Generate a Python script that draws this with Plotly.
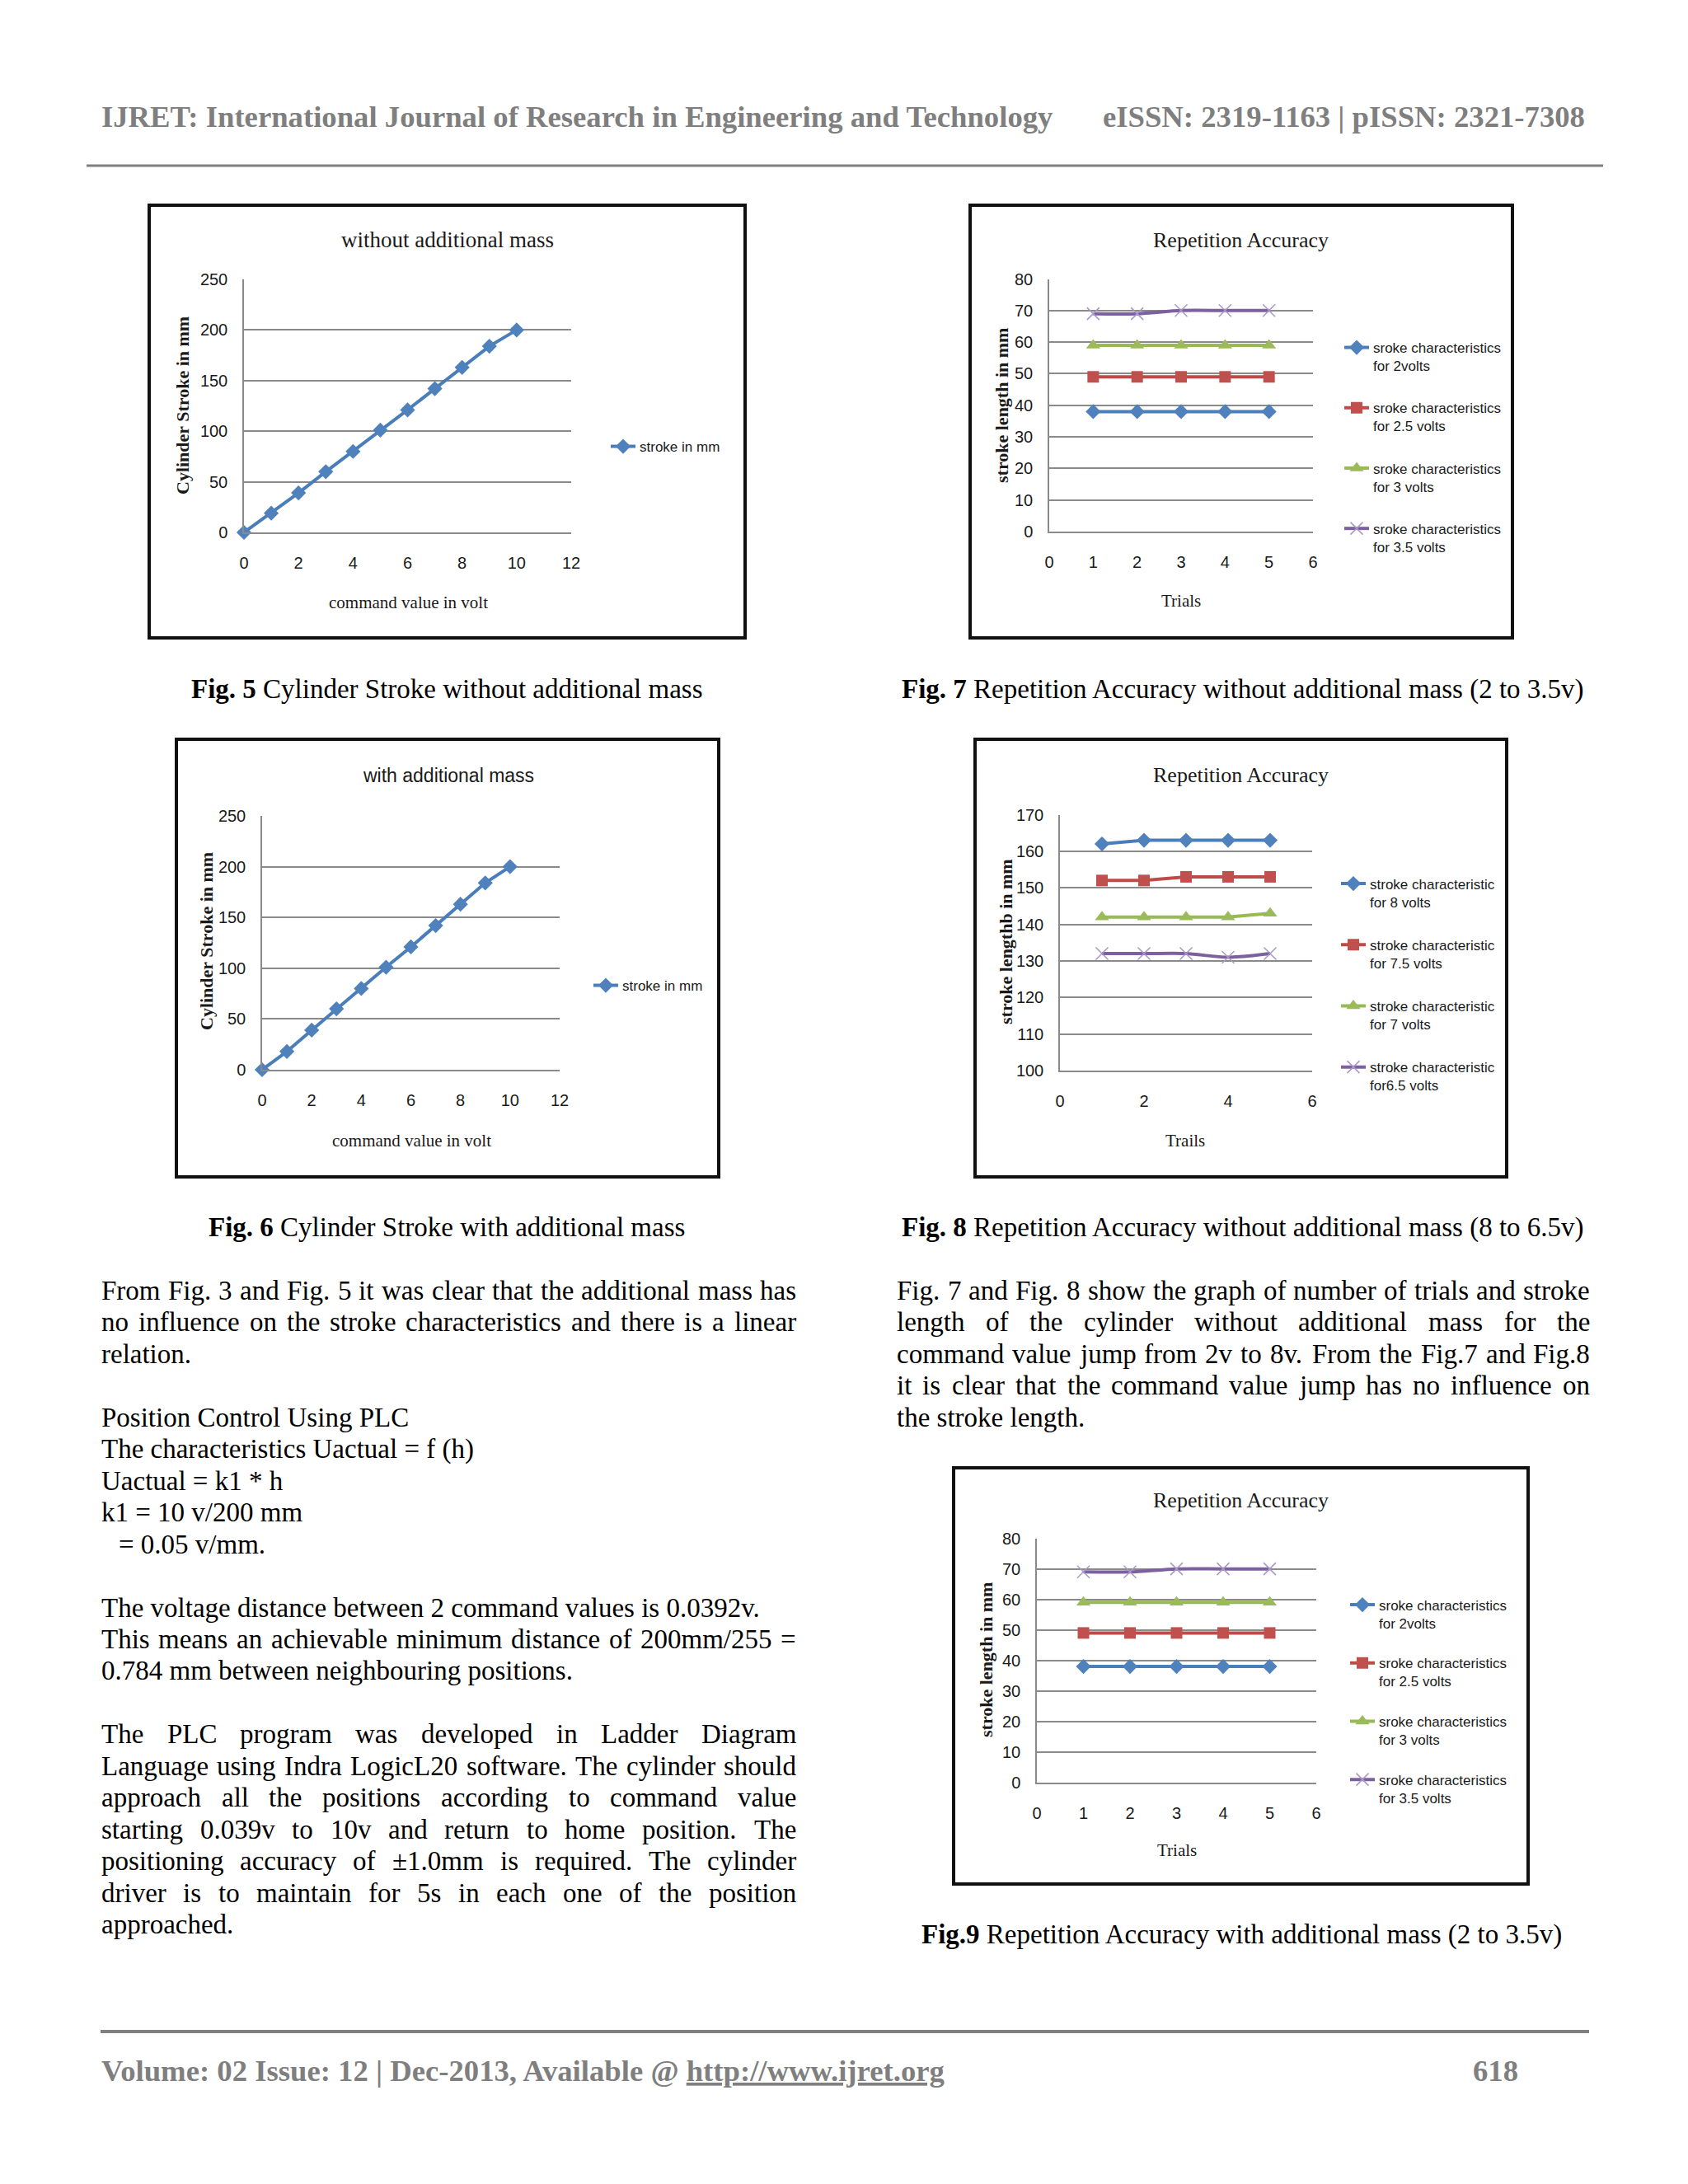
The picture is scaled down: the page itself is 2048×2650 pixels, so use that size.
import plotly.graph_objects as go

# ---------------- data ----------------
volts = [0, 1, 2, 3, 4, 5, 6, 7, 8, 9, 10]
stroke_without_mass = [0, 19, 39, 60, 80, 101, 121, 142, 163, 184, 200]
stroke_with_mass = [0, 18, 39, 60, 80, 101, 121, 142, 163, 184, 200]

trials = [1, 2, 3, 4, 5]
# Fig. 7 (without additional mass, 2 to 3.5 V)
fig7_2v = [38, 38, 38, 38, 38]
fig7_25v = [49, 49, 49, 49, 49]
fig7_3v = [59, 59, 59, 59, 59]
fig7_35v = [69, 69, 70, 70, 70]
# Fig. 8 (without additional mass, 8 to 6.5 V)
fig8_8v = [162, 163, 163, 163, 163]
fig8_75v = [152, 152, 153, 153, 153]
fig8_7v = [142, 142, 142, 142, 143]
fig8_65v = [132, 132, 132, 131, 132]
# Fig. 9 (with additional mass, 2 to 3.5 V)
fig9_2v = [38, 38, 38, 38, 38]
fig9_25v = [49, 49, 49, 49, 49]
fig9_3v = [59, 59, 59, 59, 59]
fig9_35v = [69, 69, 70, 70, 70]

low_names = ["sroke characteristics<br>for 2volts", "sroke characteristics<br>for 2.5 volts",
             "sroke characteristics<br>for 3 volts", "sroke characteristics<br>for 3.5 volts"]
high_names = ["stroke characteristic<br>for 8 volts", "stroke characteristic<br>for 7.5 volts",
              "stroke characteristic<br>for 7 volts", "stroke characteristic<br>for6.5 volts"]

# ---------------- page geometry helpers ----------------
W, H = 2032, 2634
OFF = 8


def px(x):
    return (x - OFF) / W


def py(y):
    return 1 - (y - OFF) / H


SERIF = "Liberation Serif, Times New Roman, serif"
SANS_N = "Liberation Sans Narrow, Arial Narrow, Liberation Sans, Arial, sans-serif"
GRID = "#8a8a8a"
TXT = "#1a1a1a"

BLUE_L, BLUE_M = "#4A7EBB", "#4F81BD"
RED_L, RED_M = "#BE4B48", "#C0504D"
GREEN_L, GREEN_M = "#98B954", "#9BBB59"
PURPLE_L, PURPLE_M = "#7D60A0", "#A898C8"

fig = go.Figure()
annotations = []
shapes = []

# ---------------- charts ----------------
charts = [
    dict(x=(296, 693), y=(339, 646)),
    dict(x=(1273, 1593), y=(338.5, 645)),
    dict(x=(318, 679), y=(990, 1298)),
    dict(x=(1286, 1592), y=(988.5, 1299)),
    dict(x=(1258, 1597), y=(1866.6, 2162.8)),
]

layout_axes = {}


def axis_pair(i, xrange_, xtick, yrange_, ytick):
    c = charts[i]
    sfx = "" if i == 0 else str(i + 1)
    tickfont = dict(family=SANS_N, size=20, color=TXT)
    layout_axes["xaxis" + sfx] = dict(
        domain=[px(c["x"][0]), px(c["x"][1])], anchor="y" + sfx,
        range=xrange_, dtick=xtick, tick0=0, showgrid=False, zeroline=False,
        showline=True, linecolor=GRID, linewidth=1.5,
        ticks="outside", ticklen=18, tickcolor="rgba(0,0,0,0)", tickfont=tickfont,
        fixedrange=True)
    layout_axes["yaxis" + sfx] = dict(
        domain=[py(c["y"][1]), py(c["y"][0])], anchor="x" + sfx,
        range=yrange_, dtick=ytick, tick0=0, showgrid=True, gridcolor=GRID, gridwidth=1.5,
        zeroline=False, showline=True, linecolor=GRID, linewidth=1.5,
        ticks="outside", ticklen=14, tickcolor="rgba(0,0,0,0)", tickfont=tickfont,
        fixedrange=True)
    return "x" + sfx, "y" + sfx


# Chart 1 & 3 : cylinder stroke
for i, ys, leg in [(0, stroke_without_mass, "legend"), (2, stroke_with_mass, "legend3")]:
    xa, ya = axis_pair(i, [0, 12], 2, [0, 250], 50)
    fig.add_trace(go.Scatter(
        x=volts, y=ys, xaxis=xa, yaxis=ya, mode="lines+markers", name="stroke in mm",
        line=dict(color=BLUE_L, width=4),
        marker=dict(symbol="diamond", size=14, color=BLUE_M),
        cliponaxis=False, legend=leg, showlegend=True))

# Chart 2, 4, 5 : repetition accuracy
rep_sets = [
    (1, [0, 6], 1, [0, 80], 10, [fig7_2v, fig7_25v, fig7_3v, fig7_35v], low_names, "legend2"),
    (3, [0, 6], 2, [100, 170], 10, [fig8_8v, fig8_75v, fig8_7v, fig8_65v], high_names, "legend4"),
    (4, [0, 6], 1, [0, 80], 10, [fig9_2v, fig9_25v, fig9_3v, fig9_35v], low_names, "legend5"),
]
styles = [
    dict(line=dict(color=BLUE_L, width=4), marker=dict(symbol="diamond", size=14, color=BLUE_M)),
    dict(line=dict(color=RED_L, width=4), marker=dict(symbol="square", size=14, color=RED_M)),
    dict(line=dict(color=GREEN_L, width=4), marker=dict(symbol="triangle-up", size=15, color=GREEN_M)),
    dict(line=dict(color=PURPLE_L, width=4, shape="spline", smoothing=0.8),
         marker=dict(symbol="x-thin", size=15, color=PURPLE_M, line=dict(color=PURPLE_M, width=1.5))),
]
for (i, xr, xt, yr, yt, series, names, leg) in rep_sets:
    xa, ya = axis_pair(i, xr, xt, yr, yt)
    for k, (ys, nm) in enumerate(zip(series, names)):
        st = styles[k]
        fig.add_trace(go.Scatter(
            x=trials, y=ys, xaxis=xa, yaxis=ya, mode="lines+markers", name=nm,
            line=st["line"], marker=st["marker"], cliponaxis=False,
            legend=leg, legendgroup=leg + str(k), showlegend=True))


def legend_cfg(text_x, y_mid, gap):
    return dict(x=px(text_x - 40), xanchor="left", y=py(y_mid), yanchor="middle",
                font=dict(family=SANS_N, size=17, color=TXT), bgcolor="rgba(0,0,0,0)",
                borderwidth=0, tracegroupgap=gap, valign="top", traceorder="grouped",
                itemclick=False, itemdoubleclick=False)


legends = dict(
    legend=legend_cfg(776, 542, 0),
    legend3=legend_cfg(755, 1196, 0),
    legend2=legend_cfg(1666, 542.5, 26),
    legend4=legend_cfg(1662, 1194.5, 27),
    legend5=legend_cfg(1673, 2064.5, 23.5),
)

# chart frames
frames = [(181, 249, 904, 774), (1177, 249, 1835, 774), (214, 897, 872, 1428),
          (1183, 897, 1828, 1428), (1157, 1781, 1854, 2286)]
for (x0, y0, x1, y1) in frames:
    shapes.append(dict(type="rect", xref="paper", yref="paper", x0=px(x0), x1=px(x1),
                       y0=py(y1), y1=py(y0), line=dict(color="#111111", width=4)))


def ann(text, x, y, size, family=SERIF, color=TXT, xanchor="center", angle=0, yanchor="middle"):
    annotations.append(dict(text=text, x=px(x), y=py(y), xref="paper", yref="paper",
                            showarrow=False, xanchor=xanchor, yanchor=yanchor, textangle=angle,
                            font=dict(family=family, size=size, color=color)))


# chart titles
ann("without additional mass", 543, 291, 27)
ann("with additional mass", 544, 941, 23, family=SANS_N)
ann("Repetition Accuracy", 1505, 291, 26)
ann("Repetition Accuracy", 1505, 940, 26)
ann("Repetition Accuracy", 1505, 1820, 26)
# axis titles
ann("command value in volt", 495, 731, 21)
ann("command value in volt", 499, 1384, 21)
ann("Trials", 1433, 729, 21)
ann("Trails", 1438, 1384, 21)
ann("Trials", 1428, 2245, 21)
ann("<b>Cylinder Stroke in mm</b>", 221, 492, 22, angle=-90)
ann("<b>Cylinder Stroke in mm</b>", 250, 1142, 22, angle=-90)
ann("<b>stroke length in mm</b>", 1215, 492, 22, angle=-90)
ann("<b>stroke lengthb in mm</b>", 1220, 1143, 22, angle=-90)
ann("<b>stroke length in mm</b>", 1196, 2014, 22, angle=-90)

# ---------------- page text ----------------
GRAY = "#7f7f7f"
HF = 36.7
ann("<b>IJRET: International Journal of Research in Engineering and Technology</b>", 121, 142, HF,
    color=GRAY, xanchor="left")
ann("<b>eISSN: 2319-1163 | pISSN: 2321-7308</b>", 1336, 142, HF, color=GRAY, xanchor="left")
shapes.append(dict(type="line", xref="paper", yref="paper", x0=px(105), x1=px(1945),
                   y0=py(201), y1=py(201), line=dict(color=GRAY, width=3)))
shapes.append(dict(type="line", xref="paper", yref="paper", x0=px(122), x1=px(1928),
                   y0=py(2465), y1=py(2465), line=dict(color=GRAY, width=4)))
ann("<b>Volume: 02 Issue: 12 | Dec-2013, Available @ <u>http://www.ijret.org</u></b>", 121, 2512, HF,
    color=GRAY, xanchor="left")
ann("<b>618</b>", 1814, 2512, HF, color=GRAY)

BF = 33
ann("<b>Fig. 5</b> Cylinder Stroke without additional mass", 542, 836, BF, color="black")
ann("<b>Fig. 7</b> Repetition Accuracy without additional mass (2 to 3.5v)", 1508, 836, BF, color="black")
ann("<b>Fig. 6</b> Cylinder Stroke with additional mass", 542, 1489, BF, color="black")
ann("<b>Fig. 8</b> Repetition Accuracy without additional mass (8 to 6.5v)", 1508, 1489, BF, color="black")
ann("<b>Fig.9</b> Repetition Accuracy with additional mass (2 to 3.5v)", 1506, 2347, BF, color="black")

TNR = {" ": 250, "!": 333, "(": 333, ")": 333, "*": 500, "+": 564, ",": 250, "-": 333, ".": 250,
       "/": 278, ":": 278, ";": 278, "=": 564, "±": 564, "'": 333,
       "A": 722, "B": 667, "C": 667, "D": 722, "E": 611, "F": 556, "G": 722, "H": 722, "I": 333,
       "J": 389, "K": 722, "L": 611, "M": 889, "N": 722, "O": 722, "P": 556, "Q": 722, "R": 667,
       "S": 556, "T": 611, "U": 722, "V": 722, "W": 944, "X": 722, "Y": 722, "Z": 611,
       "a": 444, "b": 500, "c": 444, "d": 500, "e": 444, "f": 333, "g": 500, "h": 500, "i": 278,
       "j": 278, "k": 500, "l": 278, "m": 778, "n": 500, "o": 500, "p": 500, "q": 500, "r": 333,
       "s": 389, "t": 278, "u": 500, "v": 500, "w": 722, "x": 500, "y": 500, "z": 444}


def tw(s, size):
    return sum(TNR.get(ch, 500) for ch in s) * size / 1000.0


def body_line(text, x0, x1, y, justify):
    if not justify:
        ann(text, x0 - 1, y, BF, color="black", xanchor="left")
        return
    words = text.split(" ")
    ws = [tw(w, BF) for w in words]
    gap = (x1 - x0 - sum(ws)) / (len(words) - 1)
    x = x0
    for w, wd in zip(words, ws):
        ann(w, x - 1, y, BF, color="black", xanchor="left")
        x += wd + gap


left_lines = [
    (0, "From Fig. 3 and Fig. 5 it was clear that the additional mass has", True),
    (1, "no influence on the stroke characteristics and there is a linear", True),
    (2, "relation.", False),
    (4, "Position Control Using PLC", False),
    (5, "The characteristics Uactual = f (h)", False),
    (6, "Uactual = k1 * h", False),
    (7, "k1 = 10 v/200 mm", False),
    (10, "The voltage distance between 2 command values is 0.0392v.", False),
    (11, "This means an achievable minimum distance of 200mm/255 =", True),
    (12, "0.784 mm between neighbouring positions.", False),
    (14, "The PLC program was developed in Ladder Diagram", True),
    (15, "Language using Indra LogicL20 software. The cylinder should", True),
    (16, "approach all the positions according to command value", True),
    (17, "starting 0.039v to 10v and return to home position. The", True),
    (18, "positioning accuracy of ±1.0mm is required. The cylinder", True),
    (19, "driver is to maintain for 5s in each one of the position", True),
    (20, "approached.", False),
]
right_lines = [
    (0, "Fig. 7 and Fig. 8 show the graph of number of trials and stroke", True),
    (1, "length of the cylinder without additional mass for the", True),
    (2, "command value jump from 2v to 8v. From the Fig.7 and Fig.8", True),
    (3, "it is clear that the command value jump has no influence on", True),
    (4, "the stroke length.", False),
]
Y0, LS = 1566, 38.45
for idx, t, j in left_lines:
    body_line(t, 122, 965, Y0 + LS * idx, j)
ann("= 0.05 v/mm.", 142, Y0 + LS * 8, BF, color="black", xanchor="left")
for idx, t, j in right_lines:
    body_line(t, 1087, 1928, Y0 + LS * idx, j)

fig.update_layout(
    width=W, height=H, autosize=False,
    margin=dict(l=0, r=0, t=0, b=0, pad=0),
    paper_bgcolor="white", plot_bgcolor="white", template="none",
    annotations=annotations, shapes=shapes,
    **layout_axes, **legends,
)

fig.write_html("out.html")
